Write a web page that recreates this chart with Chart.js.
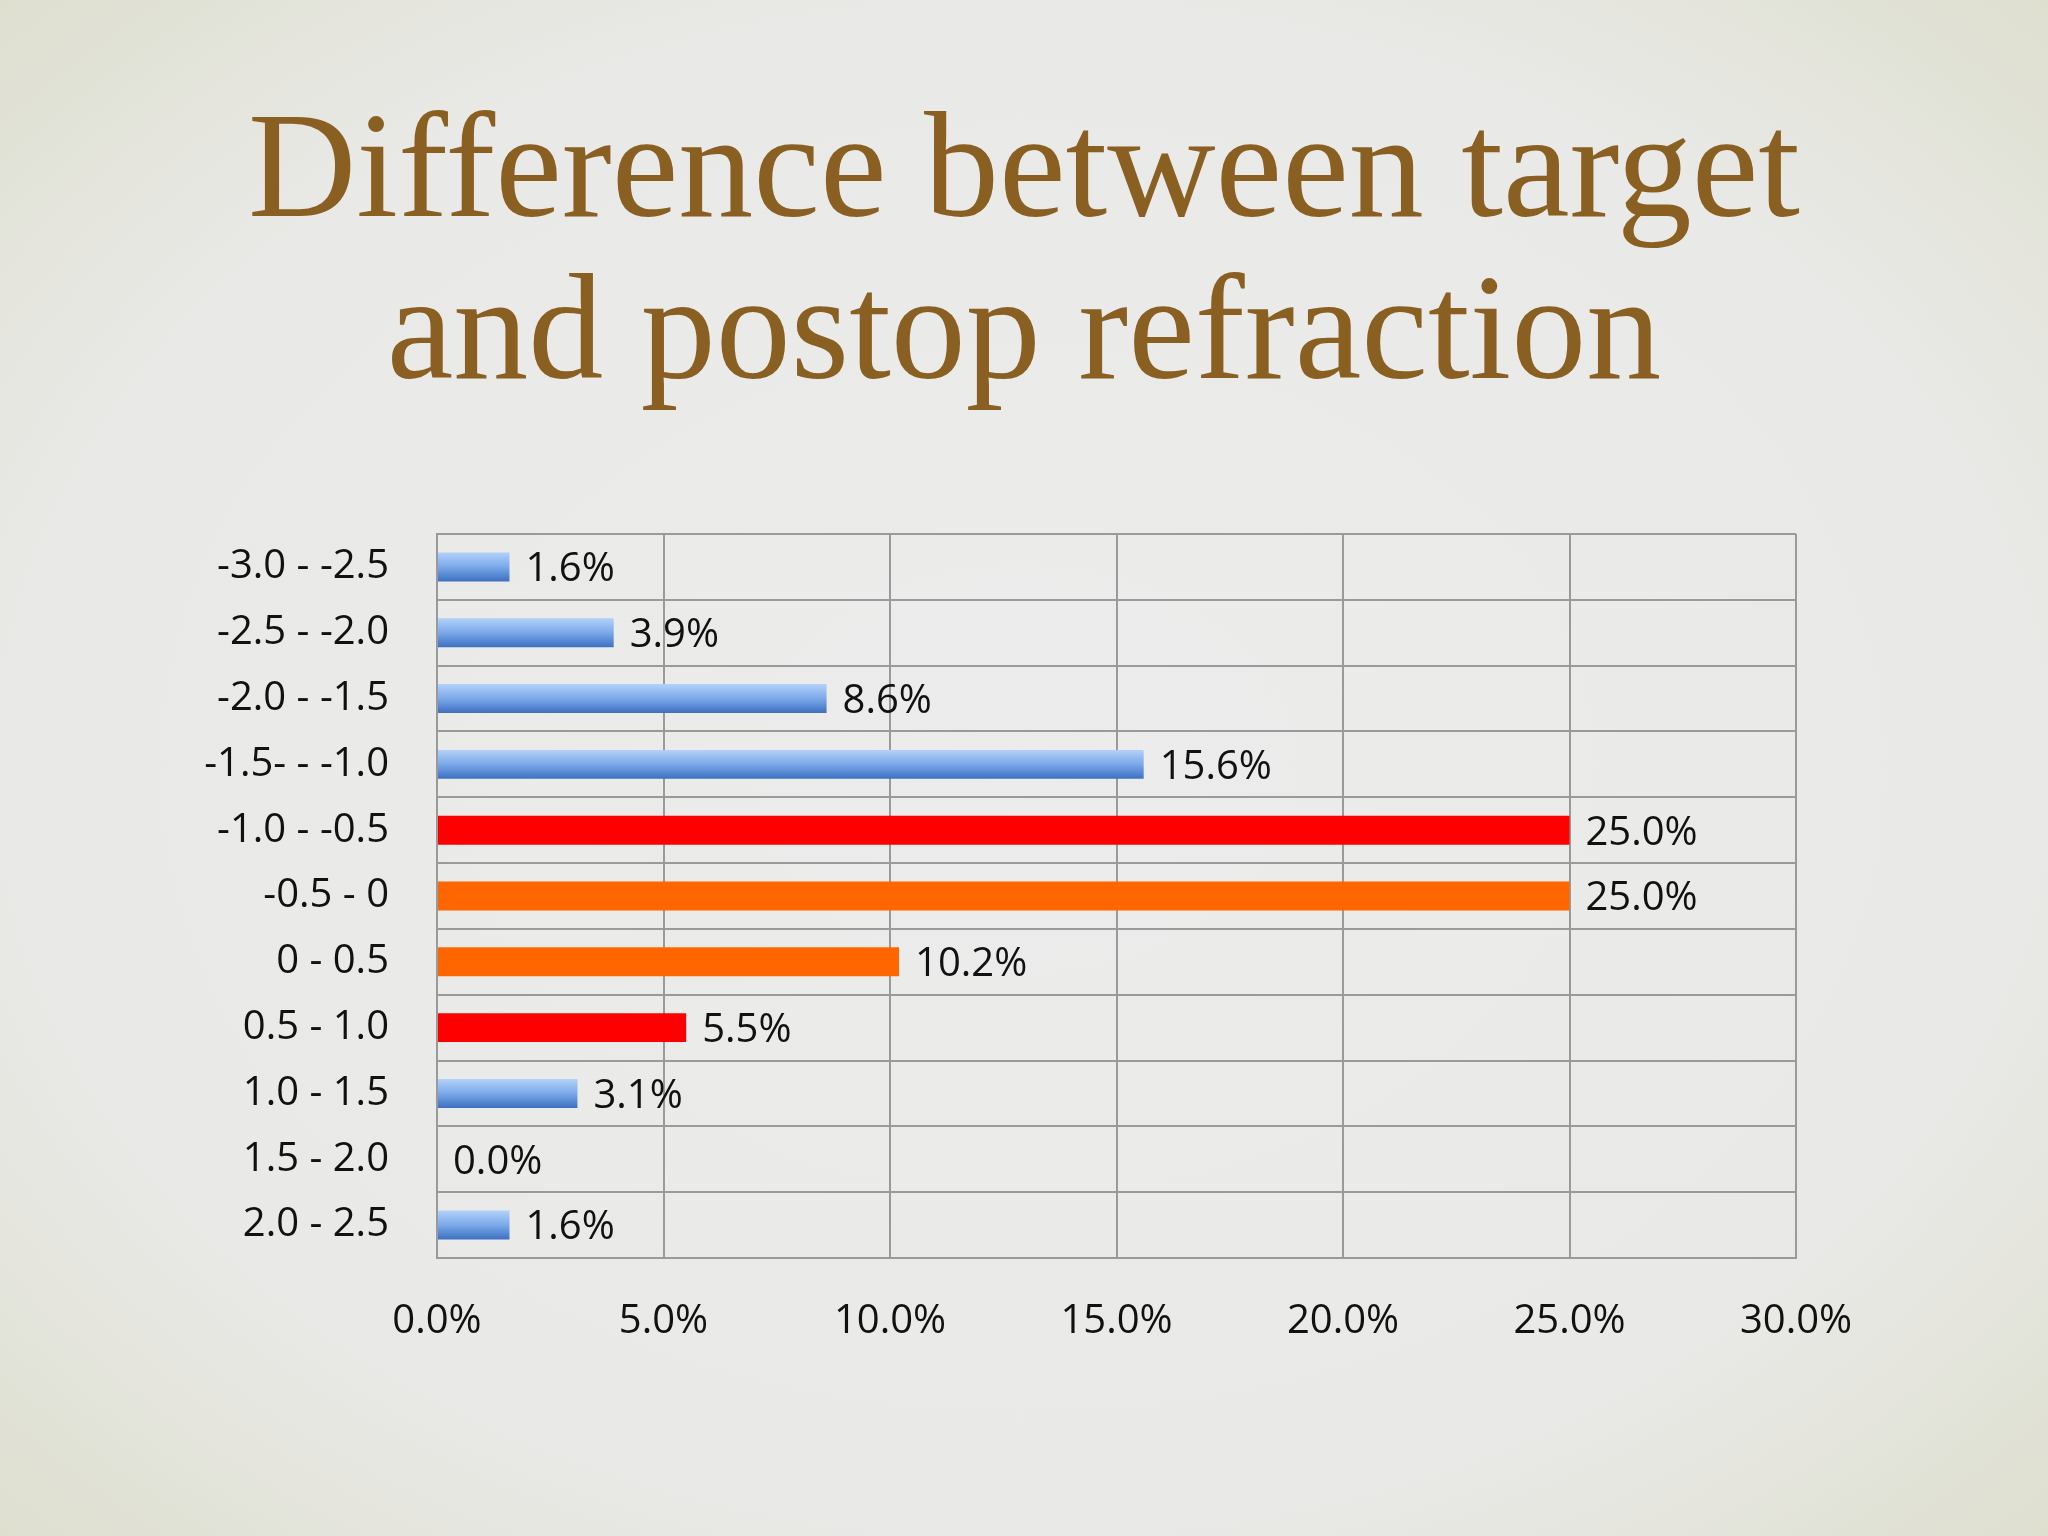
<!DOCTYPE html>
<html><head><meta charset="utf-8">
<script src="https://cdn.jsdelivr.net/npm/chart.js@4"></script>
<style>
html,body{margin:0;padding:0;width:2048px;height:1536px;overflow:hidden;}
body{background:radial-gradient(ellipse at center,#ececec 0%,#e9e9e7 70%,#dedfcf 100%);position:relative;font-family:Lato,sans-serif;}
#title{position:absolute;left:0;top:84px;width:2048px;text-align:center;font-family:"Liberation Serif","DejaVu Serif",serif;color:#8a5f22;font-size:150px;line-height:162px;}
canvas{position:absolute;left:0;top:0;}
</style></head><body>
<div id="title">Difference between target<br>and postop refraction</div>
<canvas id="c" width="2048" height="1536"></canvas>
<script>
const categories=["-3.0 - -2.5","-2.5 - -2.0","-2.0 - -1.5","-1.5- - -1.0","-1.0 - -0.5","-0.5 - 0","0 - 0.5","0.5 - 1.0","1.0 - 1.5","1.5 - 2.0","2.0 - 2.5"];
const values=[1.6,3.9,8.6,15.6,25.0,25.0,10.2,5.5,3.1,0.0,1.6];
const barKinds=["blue","blue","blue","blue","red","orange","orange","red","blue","blue","blue"];
const xTicks=[0,5,10,15,20,25,30];
const ctx=document.getElementById('c').getContext('2d');
const FONT='"Open Sans", Lato, sans-serif';
function colorFor(c,i){
  const k=barKinds[i];
  if(k==="red")return "#ff0000";
  if(k==="orange")return "#ff6600";
  const ys=c.chart.scales&&c.chart.scales.y;
  if(!ys||!c.chart.chartArea)return "#6a9ae0";
  const y=ys.getPixelForValue(i);const h=14;
  const g=c.chart.ctx.createLinearGradient(0,y-h,0,y+h);
  g.addColorStop(0,"#b0d0f8");g.addColorStop(0.45,"#80adec");g.addColorStop(1,"#3f72c2");
  return g;
}
const labelPlugin={id:'lbl',afterDatasetsDraw(chart){
  const c=chart.ctx;const meta=chart.getDatasetMeta(0);
  c.save();c.font='40px '+FONT;c.fillStyle='#111';c.textBaseline='middle';c.textAlign='left';
  meta.data.forEach((el,i)=>{c.fillText(values[i].toFixed(1)+'%',el.x+16,el.y+3);});
  c.restore();}};
new Chart(ctx,{type:'bar',
 data:{labels:categories,datasets:[{data:values,backgroundColor:(c)=>colorFor(c,c.dataIndex),barPercentage:0.44,categoryPercentage:1.0}]},
 options:{indexAxis:'y',responsive:false,animation:false,
  layout:{padding:{left:0,right:252,top:534,bottom:0}},
  plugins:{legend:{display:false},tooltip:{enabled:false}},
  scales:{
   x:{min:0,max:30,afterBuildTicks(s){s.ticks=xTicks.map(v=>({value:v}));},
      ticks:{callback:v=>v.toFixed(1)+'%',color:'#111',font:{size:40,family:FONT},padding:40,maxRotation:0},
      grid:{color:'#9a9a9a',lineWidth:2,drawTicks:false},border:{color:'#9a9a9a',width:2},
      afterFit(s){s.height=278;}},
   y:{ticks:{color:'#111',font:{size:40,family:FONT},padding:48},
      grid:{color:'#9a9a9a',lineWidth:2,drawTicks:false,offset:true},border:{color:'#9a9a9a',width:2},
      afterFit(s){s.width=437;}}
  }},
 plugins:[labelPlugin]});
</script></body></html>
